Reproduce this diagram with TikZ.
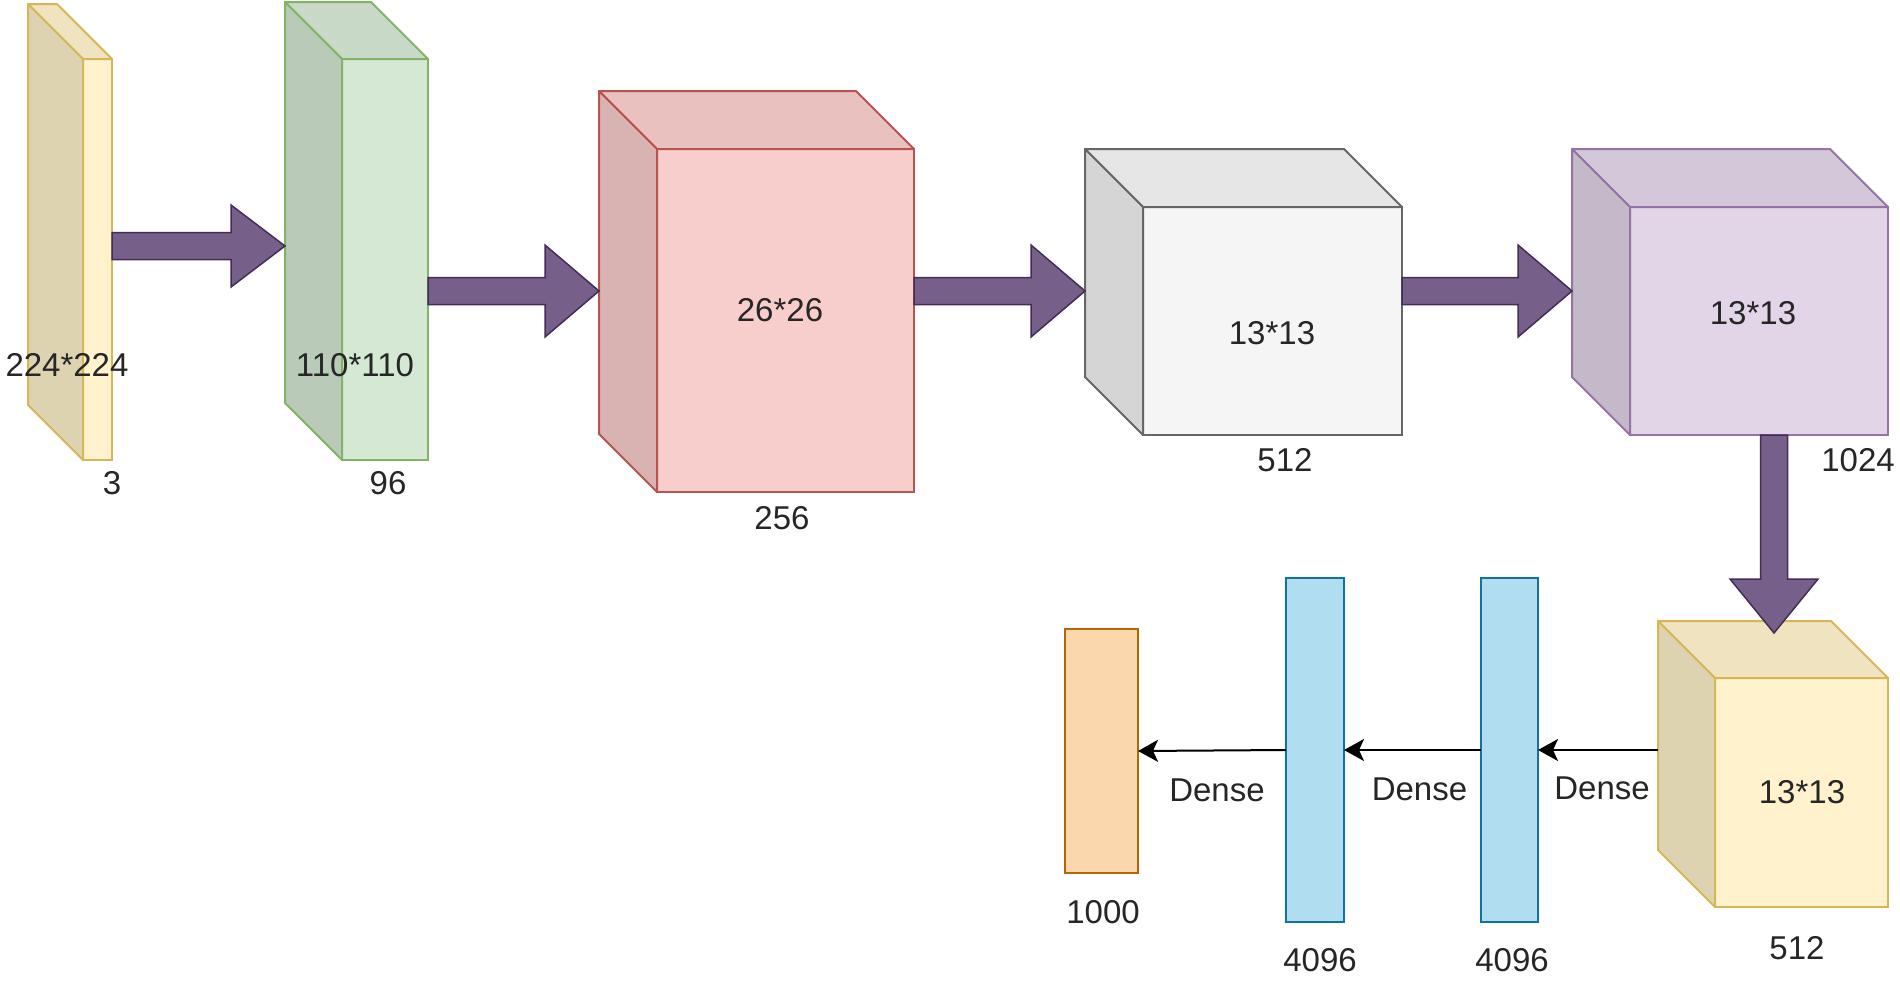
\documentclass[tikz,border=0pt]{standalone}
\usepackage{fontspec}
\setmainfont{Liberation Sans}
\usetikzlibrary{arrows.meta,calc}

\definecolor{yelF}{HTML}{FFF2CC}\definecolor{yelD}{HTML}{D6B656}
\definecolor{grnF}{HTML}{D5E8D4}\definecolor{grnD}{HTML}{82B366}
\definecolor{redF}{HTML}{F8CECC}\definecolor{redD}{HTML}{B85450}
\definecolor{gryF}{HTML}{F5F5F5}\definecolor{gryD}{HTML}{666666}
\definecolor{purF}{HTML}{E1D5E7}\definecolor{purD}{HTML}{9673A6}
\definecolor{bluF}{HTML}{B1DDF0}\definecolor{bluD}{HTML}{10739E}
\definecolor{orgF}{HTML}{FAD7AC}\definecolor{orgD}{HTML}{B46504}
\definecolor{arrF}{HTML}{76608A}\definecolor{arrD}{HTML}{432D57}

% broad block arrow: tail, tip, half width of the head
\newcommand{\fatarrow}[3]{%
  \coordinate (fa-a) at (#1);
  \coordinate (fa-t) at (#2);
  \coordinate (fa-b) at ($(fa-t)!54pt!(fa-a)$);
  \filldraw[fat] ($(fa-a)!13.5pt!90:(fa-t)$) -- ($(fa-b)!13.5pt!90:(fa-t)$) -- ($(fa-b)!#3!90:(fa-t)$)
    -- (fa-t) -- ($(fa-b)!#3!-90:(fa-t)$) -- ($(fa-b)!13.5pt!-90:(fa-t)$) -- ($(fa-a)!13.5pt!-90:(fa-t)$) -- cycle;}

\begin{document}
\begin{tikzpicture}[x=1pt,y=-1pt,font=\fontsize{33}{40}\selectfont,
 face/.style={draw,line width=2pt,inner sep=0pt,outer sep=0pt,anchor=north west},
 fat/.style={fill=arrF,draw=arrD,line width=1.5pt},
 dense/.style={draw=black,line width=2pt,-{Stealth[length=20pt,width=22pt,inset=5pt]}},
 lbl/.style={inner sep=0pt,text=black!85}]
\useasboundingbox (0,0) rectangle (1900,980);
\coordinate (lvl1) at (0,246);
\coordinate (lvl2) at (0,291);
\coordinate (lvl3) at (0,750);
\coordinate (dcol) at (1774,0);
\coordinate (dtip) at (1774,633);
% feature maps
\foreach \n/\x/\y/\w/\h/\d/\f/\s in {inp/83/59/29/401/55/yelF/yelD,c1/342/59/86/401/57/grnF/grnD,
  c2/657/149/257/343/58/redF/redD,c3/1143/207/259/228/58/gryF/gryD,
  c4/1630/207/258/228/58/purF/purD,c5/1715/678/173/229/57/yelF/yelD}{
  \node[face,fill=\f,draw=\s,minimum width=\w pt,minimum height=\h pt] (\n) at (\x,\y) {};
  \coordinate (\n b) at ([shift={(-\d,-\d)}]\n.west);
  \filldraw[fill=\f!94!black,draw=\s,line width=2pt,line join=round] (\n.north west) -- ([shift={(-\d,-\d)}]\n.north west)
    -- ([shift={(-\d,-\d)}]\n.north east) -- (\n.north east) -- cycle;
  \filldraw[fill=\f!87!black,draw=\s,line width=2pt,line join=round] (\n.north west) -- ([shift={(-\d,-\d)}]\n.north west)
    -- ([shift={(-\d,-\d)}]\n.south west) -- (\n.south west) -- cycle;
}
% dense layers
\foreach \n/\x/\y/\w/\h/\f/\s in {fc1/1481/578/57/344/bluF/bluD,fc2/1286/578/58/344/bluF/bluD,out/1065/629/73/244/orgF/orgD}
  \node[face,fill=\f,draw=\s,minimum width=\w pt,minimum height=\h pt] (\n) at (\x,\y) {};
\fatarrow{inp.east |- lvl1}{c1b |- lvl1}{41pt}
\fatarrow{c1.east |- lvl2}{c2b |- lvl2}{46pt}
\fatarrow{c2.east |- lvl2}{c3b |- lvl2}{46pt}
\fatarrow{c3.east |- lvl2}{c4b |- lvl2}{46pt}
\fatarrow{c4.south -| dcol}{dtip}{44pt}
\draw[dense] (c5b |- lvl3) -- (fc1.east) node[lbl,midway,below=26pt,xshift=4pt] (d1) {Dense};
\draw[dense] (fc1.west) -- (fc2.east) node[lbl,midway,below=27pt,xshift=7pt] (d2) {Dense};
\draw[dense] (fc2.west) -- (out.east) node[lbl,midway,below=27pt,xshift=5pt] (d3) {Dense};
% sizes
\node[lbl] (inp-sz) at (67,365) {224*224};
\node[lbl] (inp-ch) at (112,483) {3};
\node[lbl] (c1-sz) at (355,365) {110*110};
\node[lbl] (c1-ch) at (388,483) {96};
\node[lbl] (c2-sz) at (780,310) {26*26};
\node[lbl] (c2-ch) at (782,518) {256};
\node[lbl] (c3-sz) at (1272,333) {13*13};
\node[lbl] (c3-ch) at (1285,460) {512};
\node[lbl] (c4-sz) at (1753,313) {13*13};
\node[lbl] (c4-ch) at (1858,460) {1024};
\node[lbl] (c5-sz) at (1802,792) {13*13};
\node[lbl] (c5-ch) at (1797,948) {512};
\node[lbl] (fc1-ch) at (1512,960) {4096};
\node[lbl] (fc2-ch) at (1320,960) {4096};
\node[lbl] (out-ch) at (1103,912) {1000};
\end{tikzpicture}
\end{document}
